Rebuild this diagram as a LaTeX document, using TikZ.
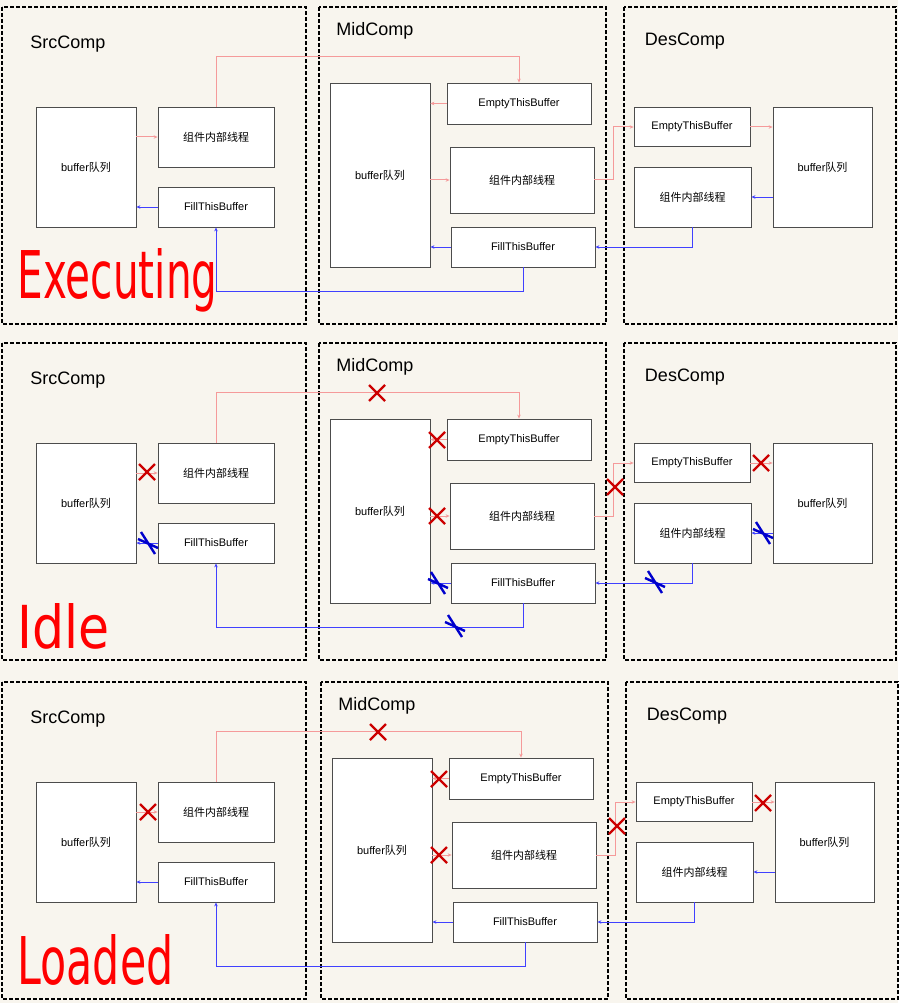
\documentclass[tikz,border=0pt]{standalone}
\usepackage{fontspec}
\setmainfont{Liberation Sans}
\newfontfamily\cjk{Noto Sans CJK SC}
\newfontfamily\handf{DejaVu Sans}
\usetikzlibrary{arrows.meta,calc}
\definecolor{bg}{HTML}{F8F5EE}
\definecolor{pk}{HTML}{F59A9A}
\definecolor{bl}{HTML}{4040FF}
\definecolor{xr}{HTML}{CC0000}
\definecolor{xb}{HTML}{0000CC}
\tikzset{
 box/.style={draw=black!70,fill=white,line width=0.8pt,inner sep=0pt,font=\fontsize{11}{13}\selectfont},
 frame/.style={draw=black,dashed,line width=1.1pt,dash pattern=on 4pt off 2pt},
 title/.style={font=\fontsize{18}{21}\selectfont},
 pkl/.style={draw=pk,line width=1pt,-{Stealth[length=4pt,width=3.5pt]}},
 bll/.style={draw=bl,line width=1pt,-{Stealth[length=4pt,width=3.5pt]}},
 hand/.style={text=red,font=\fontsize{50}{50}\selectfont\handf,anchor=west},
 xred/.style={draw=xr,line width=2.2pt},
 xblu/.style={draw=xb,line width=2.4pt},
}
\newcommand\qbf{buffer{\cjk 队列}}
\newcommand\qthr{{\cjk 组件内部线程}}
% #1 prefix, #2 y offset, #3 x shift of mid/des
\newcommand\mypanel[3]{%
\begin{scope}[yshift=-#2pt]
 \draw[frame] (2,7) rectangle (306,324);
 \node[title] (#1st) at (68,44) {SrcComp};
 \node[box,minimum width=100pt,minimum height=120pt] (#1sb) at (86,167) {\qbf};
 \node[box,minimum width=116pt,minimum height=60pt] (#1sth) at (216,137) {\qthr};
 \node[box,minimum width=116pt,minimum height=40pt] (#1sf) at (216,207) {FillThisBuffer};
\end{scope}
\begin{scope}[yshift=-#2pt,xshift=#3pt]
 \draw[frame] (319,7) rectangle (606,324);
 \node[title] (#1mt) at (375,31) {MidComp};
 \node[box,minimum width=100pt,minimum height=184pt] (#1mb) at (380,175) {\qbf};
 \node[box,minimum width=144pt,minimum height=41pt] (#1me) at (519,103.5) {EmptyThisBuffer};
 \node[box,minimum width=144pt,minimum height=66pt] (#1mth) at (522,180) {\qthr};
 \node[box,minimum width=144pt,minimum height=40pt] (#1mf) at (523,247) {FillThisBuffer};
 \draw[frame] (624,7) rectangle (896,324);
 \node[title] (#1dt) at (685,41) {DesComp};
 \node[box,minimum width=116pt,minimum height=39pt] (#1de) at (692,127) {EmptyThisBuffer};
 \node[box,minimum width=117pt,minimum height=60pt] (#1dth) at (692.5,197) {\qthr};
 \node[box,minimum width=99pt,minimum height=120pt] (#1db) at (822.5,167) {\qbf};
\end{scope}
 \draw[pkl] (#1sth.north) -- ++(0,-50) -| (#1me.north);
 \draw[pkl] (#1sb.east|-#1sth) -- (#1sth.west);
 \draw[bll] (#1sf.west) -- (#1sb.east|-#1sf);
 \draw[pkl] (#1me.west) -- (#1mb.east|-#1me);
 \draw[pkl] (#1mb.east|-#1mth) -- (#1mth.west);
 \draw[bll] (#1mf.west) -- (#1mb.east|-#1mf);
 \draw[bll] (#1mf.south) -- ++(0,24) -| (#1sf.south);
 \draw[pkl] (#1mth.east) -- ++(19,0) |- (#1de.west);
 \draw[pkl] (#1de.east) -- (#1db.west|-#1de);
 \draw[bll] (#1db.west|-#1dth) -- (#1dth.east);
 \draw[bll] (#1dth.south) |- (#1mf.east);
}
\newcommand\xr[1]{\draw[xred] ($#1+(-8,-8)$) -- ($#1+(8,8)$) ($#1+(-8,8)$) -- ($#1+(8,-8)$);}
\newcommand\xbl[1]{\draw[xblu] ($#1+(-7,-11)$) -- ($#1+(7,11)$) ($#1+(-10,-4)$) -- ($#1+(10,5)$);}
\begin{document}
\begin{tikzpicture}[x=1pt,y=-1pt]
\fill[bg] (0,0) rectangle (898,1003);
\useasboundingbox (0,0) rectangle (898,1003);
\mypanel{a}{0}{0}
\mypanel{b}{336}{0}
\mypanel{c}{675}{2}
\node[hand] (h1) at (14,280) {\resizebox{200pt}{50pt}{Executing}};
\node[hand] (h2) at (14,626) {\resizebox{92pt}{45pt}{Idle}};
\node[hand] (h3) at (14,960) {\resizebox{156pt}{50pt}{Loaded}};
% Idle crosses
\xr{(147,472)} \xbl{(148,543)} \xr{(377,393)} \xr{(437,440)} \xr{(437,516)}
\xbl{(438,583)} \xbl{(455,626)} \xr{(615,487)} \xr{(761,463)} \xbl{(763,533)} \xbl{(655,582)}
% Loaded crosses
\xr{(148,812)} \xr{(378,732)} \xr{(439,779)} \xr{(439,855)} \xr{(617,826)} \xr{(763,803)}
\end{tikzpicture}
\end{document}
